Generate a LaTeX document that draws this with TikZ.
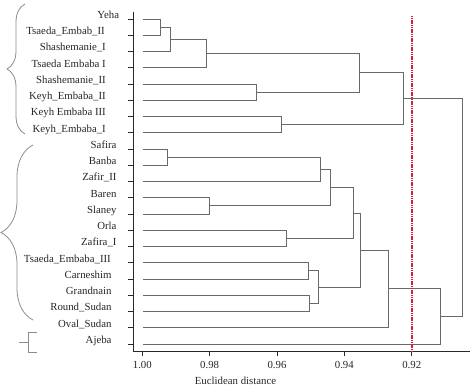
\documentclass[tikz,border=0pt]{standalone}
\usepackage{fontspec}
\setmainfont{Liberation Serif}
\usetikzlibrary{decorations.pathreplacing}
\definecolor{dline}{RGB}{105,105,105}
\definecolor{axcol}{RGB}{40,40,40}
\definecolor{cutred}{RGB}{205,35,60}
\definecolor{brgray}{RGB}{140,140,140}
\begin{document}
\begin{tikzpicture}[x=1pt,y=-1pt,
  lab/.style={font=\fontsize{10.8}{12}\selectfont, inner sep=0pt, anchor=base east, text=black!85},
  ticklab/.style={font=\fontsize{10.8}{12}\selectfont, inner sep=0pt, anchor=base, text=black!85},
  den/.style={draw=dline, line width=0.85pt},
  axis/.style={draw=axcol, line width=0.9pt},
  bracestyle/.style={draw=brgray, line width=0.8pt, decorate},
  cutline/.style={draw=cutred, line width=1.7pt, dash pattern=on 1.2pt off 0.6pt}]
\useasboundingbox (0,0) rectangle (474,387);

% leaf start coordinates
\foreach \k in {0,...,20}{
  \pgfmathsetmacro{\yy}{19+16.25*\k}
  \coordinate (L\k) at (142.7,\yy);
  \draw[axis] (128,\yy) -- (133,\yy);
}

% labels
\node[lab] (t0)  at (119.3,18.3)  {Yeha};
\node[lab] (t1)  at (105,34.55)   {Tsaeda\_Embab\_II};
\node[lab] (t2)  at (106,50.8)    {Shashemanie\_I};
\node[lab] (t3)  at (106,67.05)   {Tsaeda Embaba I};
\node[lab] (t4)  at (106,83.3)    {Shashemanie\_II};
\node[lab] (t5)  at (106,99.55)   {Keyh\_Embaba\_II};
\node[lab] (t6)  at (106,115.8)   {Keyh Embaba III};
\node[lab] (t7)  at (106,132.05)  {Keyh\_Embaba\_I};
\node[lab] (t8)  at (116.7,148.3) {Safira};
\node[lab] (t9)  at (116.7,164.55){Banba};
\node[lab] (t10) at (116.7,180.8) {Zafir\_II};
\node[lab] (t11) at (116.7,197.05){Baren};
\node[lab] (t12) at (116.7,213.3) {Slaney};
\node[lab] (t13) at (116.7,229.55){Orla};
\node[lab] (t14) at (116.7,245.8) {Zafira\_I};
\node[lab] (t15) at (111,262.05)  {Tsaeda\_Embaba\_III};
\node[lab] (t16) at (111.7,278.3) {Carneshim};
\node[lab] (t17) at (111.7,294.55){Grandnain};
\node[lab] (t18) at (111.7,310.8) {Round\_Sudan};
\node[lab] (t19) at (111.7,327.05){Oval\_Sudan};
\node[lab] (t20) at (111.7,343.3) {Ajeba};

% merge coordinates
\coordinate (m1) at (160.7,27.125);
\coordinate (m2) at (170.7,39.31);
\coordinate (m3) at (206,53.53);
\coordinate (m4) at (256.7,92.125);
\coordinate (m5) at (359.3,72.83);
\coordinate (m6) at (281.7,124.625);
\coordinate (m7) at (403.7,98.73);
\coordinate (n1) at (167.3,157.125);
\coordinate (n2) at (320.7,169.31);
\coordinate (n3) at (209,205.875);
\coordinate (n4) at (330,187.59);
\coordinate (n5) at (286.7,238.375);
\coordinate (n6) at (353.3,212.98);
\coordinate (n7) at (308.3,270.875);
\coordinate (n8) at (309,303.375);
\coordinate (n9) at (318.3,287.125);
\coordinate (n10) at (360,250.05);
\coordinate (n11) at (388.3,288.9);
\coordinate (n12) at (440,316.45);
\coordinate (root) at (462.3,207.6);

% dendrogram links: child -> merge column -> child
\draw[den] (L0) -- (L0 -| m1) -- (L1 -| m1) -- (L1);
\draw[den] (m1) -- (m1 -| m2) -- (L2 -| m2) -- (L2);
\draw[den] (m2) -- (m2 -| m3) -- (L3 -| m3) -- (L3);
\draw[den] (L4) -- (L4 -| m4) -- (L5 -| m4) -- (L5);
\draw[den] (m3) -- (m3 -| m5) -- (m4 -| m5) -- (m4);
\draw[den] (L6) -- (L6 -| m6) -- (L7 -| m6) -- (L7);
\draw[den] (m5) -- (m5 -| m7) -- (m6 -| m7) -- (m6);
\draw[den] (L8) -- (L8 -| n1) -- (L9 -| n1) -- (L9);
\draw[den] (n1) -- (n1 -| n2) -- (L10 -| n2) -- (L10);
\draw[den] (L11) -- (L11 -| n3) -- (L12 -| n3) -- (L12);
\draw[den] (n2) -- (n2 -| n4) -- (n3 -| n4) -- (n3);
\draw[den] (L13) -- (L13 -| n5) -- (L14 -| n5) -- (L14);
\draw[den] (n4) -- (n4 -| n6) -- (n5 -| n6) -- (n5);
\draw[den] (L15) -- (L15 -| n7) -- (L16 -| n7) -- (L16);
\draw[den] (L17) -- (L17 -| n8) -- (L18 -| n8) -- (L18);
\draw[den] (n7) -- (n7 -| n9) -- (n8 -| n9) -- (n8);
\draw[den] (n6) -- (n6 -| n10) -- (n9 -| n10) -- (n9);
\draw[den] (n10) -- (n10 -| n11) -- (L19 -| n11) -- (L19);
\draw[den] (n11) -- (n11 -| n12) -- (L20 -| n12) -- (L20);
\draw[den] (m7) -- (m7 -| root) -- (n12 -| root) -- (n12);

% axes
\coordinate (axtop) at (133,12);
\coordinate (axcorner) at (133,351);
\coordinate (axright) at (470,351);
\draw[axis] (axtop) -- (axcorner) -- (axright);
\foreach \xx/\lab in {142.3/1.00, 209.6/0.98, 277/0.96, 344.3/0.94, 411.7/0.92}{
  \draw[axis] (\xx,351) -- (\xx,356.5);
  \node[ticklab] at (\xx,368.8) {\lab};
}
\node[ticklab] (xlabel) at (235.5,384.6) {Euclidean distance};

% cut line
\coordinate (cuttop) at (411.7,16);
\coordinate (cutbot) at (411.7,351);
\draw[cutline] (cuttop) -- (cutbot);

% braces
\draw[bracestyle, decoration={brace, amplitude=18pt}] (25,134) -- (25,4);
\draw[bracestyle, decoration={brace, amplitude=32pt}] (33,320) -- (33,145);
\draw[draw=brgray, line width=0.8pt] (36.7,332.7) -- (28.3,332.7) -- (28.3,352.3) -- (36.7,352.3);
\draw[draw=brgray, line width=0.8pt] (19.3,342.7) -- (28.3,342.7);
\end{tikzpicture}
\end{document}
